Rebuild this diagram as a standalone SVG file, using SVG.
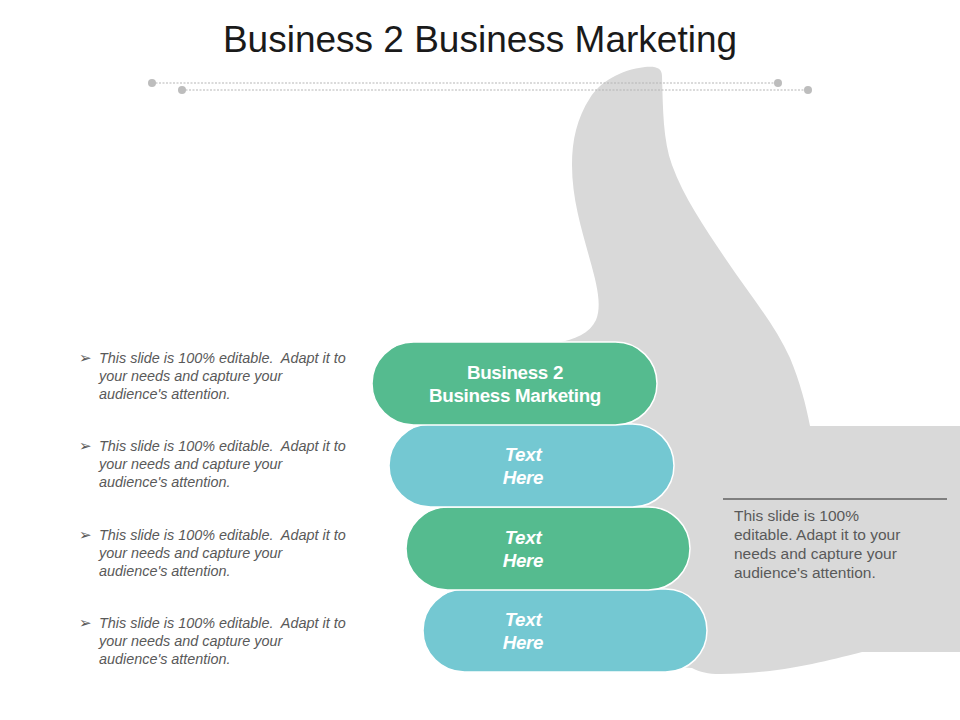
<svg xmlns="http://www.w3.org/2000/svg" width="960" height="720" viewBox="0 0 960 720">
<style>
.title{font-family:"Liberation Sans",Arial,sans-serif;font-size:37px;fill:#1a1a1a;text-anchor:middle}
.bl{font-family:"Liberation Sans",Arial,sans-serif;font-size:14.4px;font-style:italic;fill:#595959}
.arr{font-family:"DejaVu Sans",sans-serif;font-size:15px;fill:#595959}
.pt{font-family:"Liberation Sans",Arial,sans-serif;font-size:18.8px;font-weight:bold;fill:#ffffff;text-anchor:middle;letter-spacing:-0.3px}
.pi{font-style:italic}
.green{fill:#55bb8f;stroke:#ffffff;stroke-width:1.5}
.blue{fill:#74c8d2;stroke:#ffffff;stroke-width:1.5}
.dl{stroke:#b5b5b5;stroke-width:1;stroke-dasharray:2 1.5}
.dot{fill:#bdbdbd}
.ct{font-family:"Liberation Sans",Arial,sans-serif;font-size:15.5px;fill:#595959}
</style>
<rect width="960" height="720" fill="#ffffff"/>
<g id="thumb">
<path d="M662,76 C663,110 663,140 672,165 C684,198 705,228 725,258 C750,295 775,325 790,358 C800,382 806,405 810,426 L960,426 L960,652 L862,652 C830,660 780,674 720,674 C708,674 700,672 692,668 L560,660 L555,343 C575,340 590,333 596,320 C602,305 597,285 590,260 C582,230 572,200 572,165 C572,140 577,118 590,98 C600,82 620,70 645,67 C656,66 662,68 662,76 Z" fill="#d9d9d9"/>
</g>
<g id="title"><text class="title" x="480" y="52">Business 2 Business Marketing</text></g>
<g id="rules">
<line class="dl" x1="152" y1="83" x2="778" y2="83"/>
<line class="dl" x1="182" y1="90" x2="808" y2="90"/>
<circle class="dot" cx="152" cy="83" r="4"/>
<circle class="dot" cx="778" cy="83" r="4"/>
<circle class="dot" cx="182" cy="90" r="4"/>
<circle class="dot" cx="808" cy="90" r="4"/>
</g>
<g id="bullets">
<g id="bullet1"><text class="arr" x="79" y="363">➢</text><text class="bl" x="99" y="363" xml:space="preserve">This slide is 100% editable.  Adapt it to</text><text class="bl" x="99" y="381">your needs and capture your</text><text class="bl" x="99" y="399">audience's attention.</text></g>
<g id="bullet2"><text class="arr" x="79" y="451">➢</text><text class="bl" x="99" y="451" xml:space="preserve">This slide is 100% editable.  Adapt it to</text><text class="bl" x="99" y="469">your needs and capture your</text><text class="bl" x="99" y="487">audience's attention.</text></g>
<g id="bullet3"><text class="arr" x="79" y="540">➢</text><text class="bl" x="99" y="540" xml:space="preserve">This slide is 100% editable.  Adapt it to</text><text class="bl" x="99" y="558">your needs and capture your</text><text class="bl" x="99" y="576">audience's attention.</text></g>
<g id="bullet4"><text class="arr" x="79" y="628">➢</text><text class="bl" x="99" y="628" xml:space="preserve">This slide is 100% editable.  Adapt it to</text><text class="bl" x="99" y="646">your needs and capture your</text><text class="bl" x="99" y="664">audience's attention.</text></g>
</g>
<g id="connectors"></g>
<g id="pill4"><rect class="blue" x="423" y="589" width="284" height="83" rx="41.5"/><text class="pt pi" x="523" y="626">Text</text><text class="pt pi" x="523" y="649">Here</text></g>
<g id="pill3"><rect class="green" x="406" y="507" width="284" height="83" rx="41.5"/><text class="pt pi" x="523" y="544">Text</text><text class="pt pi" x="523" y="567">Here</text></g>
<g id="pill2"><rect class="blue" x="389" y="424" width="285" height="83" rx="41.5"/><text class="pt pi" x="523" y="461">Text</text><text class="pt pi" x="523" y="484">Here</text></g>
<g id="pill1"><rect class="green" x="372" y="342" width="285" height="83" rx="41.5"/><text class="pt" x="515" y="379">Business 2</text><text class="pt" x="515" y="402">Business Marketing</text></g>
<g id="callout">
<line x1="723" y1="499" x2="947" y2="499" stroke="#7f7f7f" stroke-width="2"/>
<text class="ct" x="734" y="521">This slide is 100%</text>
<text class="ct" x="734" y="540">editable. Adapt it to your</text>
<text class="ct" x="734" y="559">needs and capture your</text>
<text class="ct" x="734" y="578">audience's attention.</text>
</g>
</svg>
